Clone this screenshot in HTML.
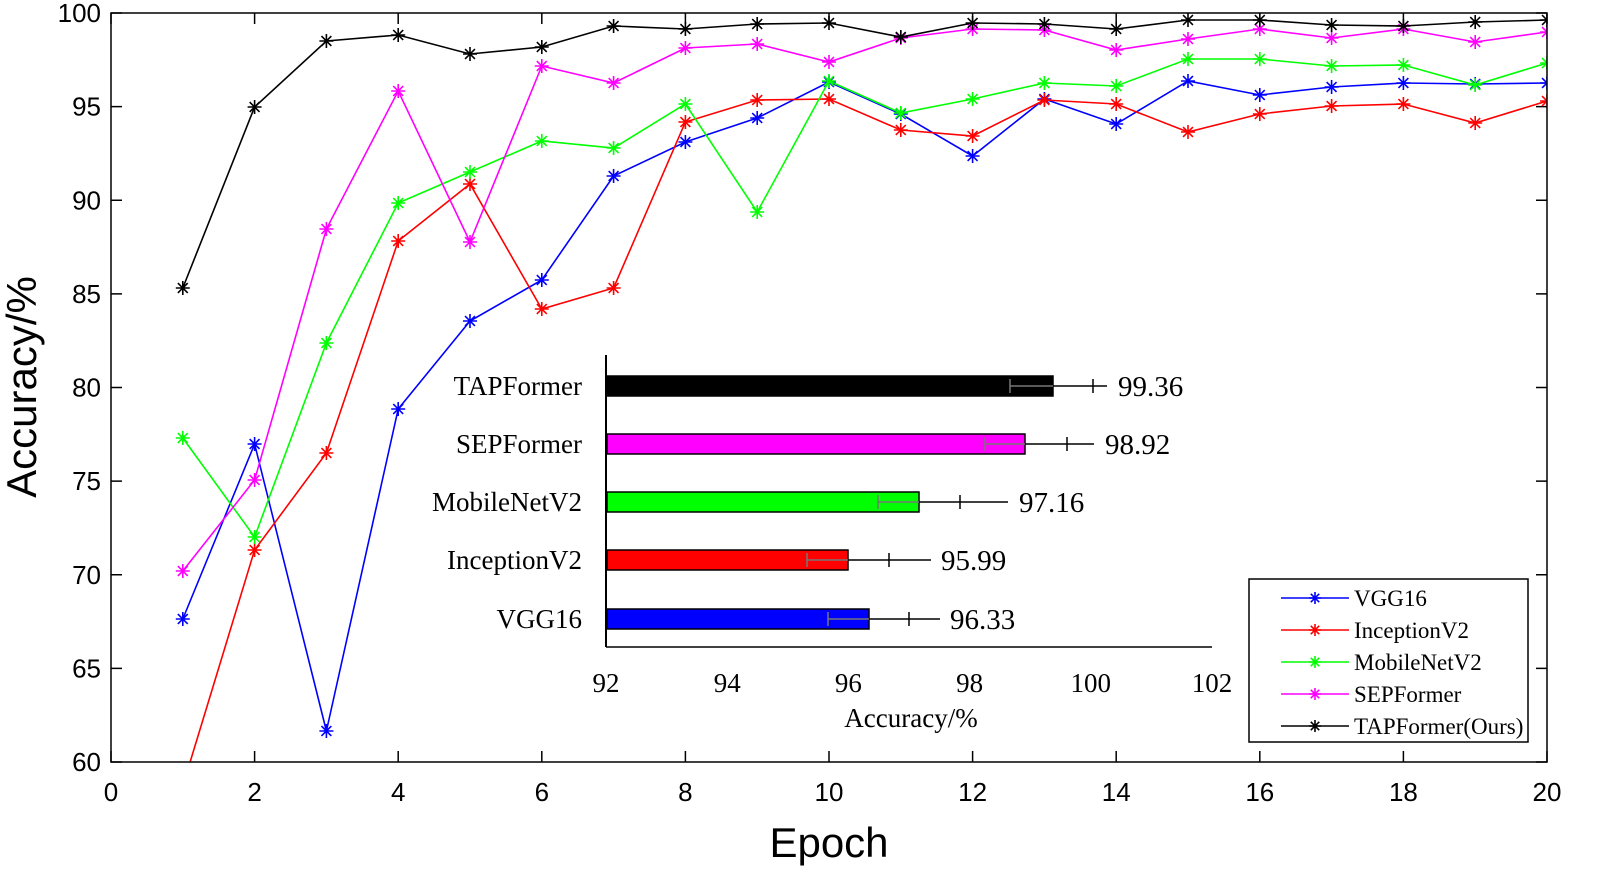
<!DOCTYPE html>
<html><head><meta charset="utf-8"><style>
html,body{margin:0;padding:0;background:#fff;}
svg{display:block;}
.sn{font-family:"Liberation Sans",sans-serif;}
.sf{font-family:"Liberation Serif",serif;}
</style></head><body>
<svg id="s" width="1600" height="889" viewBox="0 0 1600 889" xmlns="http://www.w3.org/2000/svg">
<rect width="1600" height="889" fill="#fff"/>
<g id="main"></g>
</svg>
<script>
const NS="http://www.w3.org/2000/svg";
const g=document.getElementById('main');
function el(t,a,txt){const e=document.createElementNS(NS,t);for(const k in a)e.setAttribute(k,a[k]);if(txt!==undefined)e.textContent=txt;g.appendChild(e);return e;}
const X0=111,X1=1547,Y0=13,Y1=762;
const ex=e=>X0+(X1-X0)*e/20;
for(let e=0;e<=20;e+=2){const x=ex(e);
 el('line',{x1:x,y1:Y1,x2:x,y2:Y1-11,stroke:'#000','stroke-width':1.5});
 el('line',{x1:x,y1:Y0,x2:x,y2:Y0+11,stroke:'#000','stroke-width':1.5});
 el('text',{x:x,y:801,'text-anchor':'middle','font-size':26,class:'sn'},e);}
for(let v=60;v<=100;v+=5){const y=Y1-(Y1-Y0)*(v-60)/40;
 el('line',{x1:X0,y1:y,x2:X0+11,y2:y,stroke:'#000','stroke-width':1.5});
 el('line',{x1:X1,y1:y,x2:X1-11,y2:y,stroke:'#000','stroke-width':1.5});
 el('text',{x:101,y:y+9,'text-anchor':'end','font-size':26,class:'sn'},v);}
el('text',{x:829,y:857,'text-anchor':'middle','font-size':42,class:'sn'},'Epoch');
el('text',{x:0,y:0,'text-anchor':'middle','font-size':42,class:'sn',transform:'translate(36,387) rotate(-90)'},'Accuracy/%');
const data={
'#0000ff':[619,444,731,409,321,280,176,142,118,82,114,156,99,124,81,95,87,83,84,83],
'#ff0000':[786,550,453,241,184,309,288,122,100,99,130,136,100,104,132,114,106,104,123,101],
'#00ff00':[438,537,343,203,172,141,148,104,212,81,113,99,83,86,59,59,66,65,85,63],
'#ff00ff':[571,480,229,91,242,66,83,48,44,62,38,29,30,50,39,29,38,29,42,32],
'#000000':[288,107,41,35,54,47,26,29,24,23,37,23,24,29,20,20,25,26,22,20]};
const cp=el('clipPath',{id:'c'});const r=document.createElementNS(NS,'rect');
r.setAttribute('x',X0);r.setAttribute('y',Y0);r.setAttribute('width',X1-X0);r.setAttribute('height',Y1-Y0);cp.appendChild(r);
function star(x,y,c,s){let d='';for(let i=0;i<4;i++){const a=i*Math.PI/4;d+=`M${x-s*Math.cos(a)},${y-s*Math.sin(a)}L${x+s*Math.cos(a)},${y+s*Math.sin(a)}`;}
 el('path',{d:d,stroke:c,'stroke-width':1.6,fill:'none','clip-path':'url(#c)'});}
for(const c in data){const ys=data[c];
 el('polyline',{points:ys.map((y,i)=>ex(i+1)+','+y).join(' '),fill:'none',stroke:c,'stroke-width':1.6,'clip-path':'url(#c)'});
 ys.forEach((y,i)=>star(ex(i+1),y,c,7));}
el('rect',{x:X0,y:Y0,width:X1-X0,height:Y1-Y0,fill:'none',stroke:'#000','stroke-width':1.5});
el('line',{x1:606,y1:355,x2:606,y2:647,stroke:'#000','stroke-width':2});
el('line',{x1:606,y1:647,x2:1212,y2:647,stroke:'#000','stroke-width':1.5});
for(let v=92;v<=102;v+=2){const x=606+(v-92)*60.6;
 el('text',{x:x,y:692,'text-anchor':'middle','font-size':27,class:'sf'},v);}
el('text',{x:911,y:727,'text-anchor':'middle','font-size':27,class:'sf'},'Accuracy/%');
const bars=[['TAPFormer','#000000',386,1053,1010,1093,1107,1118,'99.36'],
['SEPFormer','#ff00ff',444,1025,985,1067,1094,1105,'98.92'],
['MobileNetV2','#00ff00',502,919,878,960,1008,1019,'97.16'],
['InceptionV2','#ff0000',560,848,807,889,931,941,'95.99'],
['VGG16','#0000ff',619,869,828,909,940,950,'96.33']];
for(const b of bars){const [n,c,y,end,l,t,rr,lx,lab]=b;
 el('rect',{x:607,y:y-10,width:end-607,height:20,fill:c,stroke:'#000','stroke-width':1.5});
 el('line',{x1:l,y1:y,x2:end,y2:y,stroke:'#777','stroke-width':1.5});
 el('line',{x1:l,y1:y-7,x2:l,y2:y+7,stroke:'#777','stroke-width':1.5});
 el('line',{x1:end,y1:y,x2:rr,y2:y,stroke:'#000','stroke-width':1.5});
 el('line',{x1:t,y1:y-7,x2:t,y2:y+7,stroke:'#000','stroke-width':1.5});
 el('text',{x:lx,y:y+10,'font-size':29,class:'sf'},lab);
 el('text',{x:582,y:y+9,'text-anchor':'end','font-size':27,class:'sf'},n);}
el('rect',{x:1249,y:579,width:279,height:163,fill:'#fff',stroke:'#000','stroke-width':1.5});
const leg=[['VGG16','#0000ff'],['InceptionV2','#ff0000'],['MobileNetV2','#00ff00'],['SEPFormer','#ff00ff'],['TAPFormer(Ours)','#000000']];
leg.forEach((L,i)=>{const y=598+i*32;
 el('line',{x1:1281,y1:y,x2:1349,y2:y,stroke:L[1],'stroke-width':1.6});
 let d='';for(let k=0;k<4;k++){const a=k*Math.PI/4;d+=`M${1315-6*Math.cos(a)},${y-6*Math.sin(a)}L${1315+6*Math.cos(a)},${y+6*Math.sin(a)}`;}
 el('path',{d:d,stroke:L[1],'stroke-width':1.6});
 el('text',{x:1354,y:y+8,'font-size':23,class:'sf'},L[0]);});
</script>
</body></html>
